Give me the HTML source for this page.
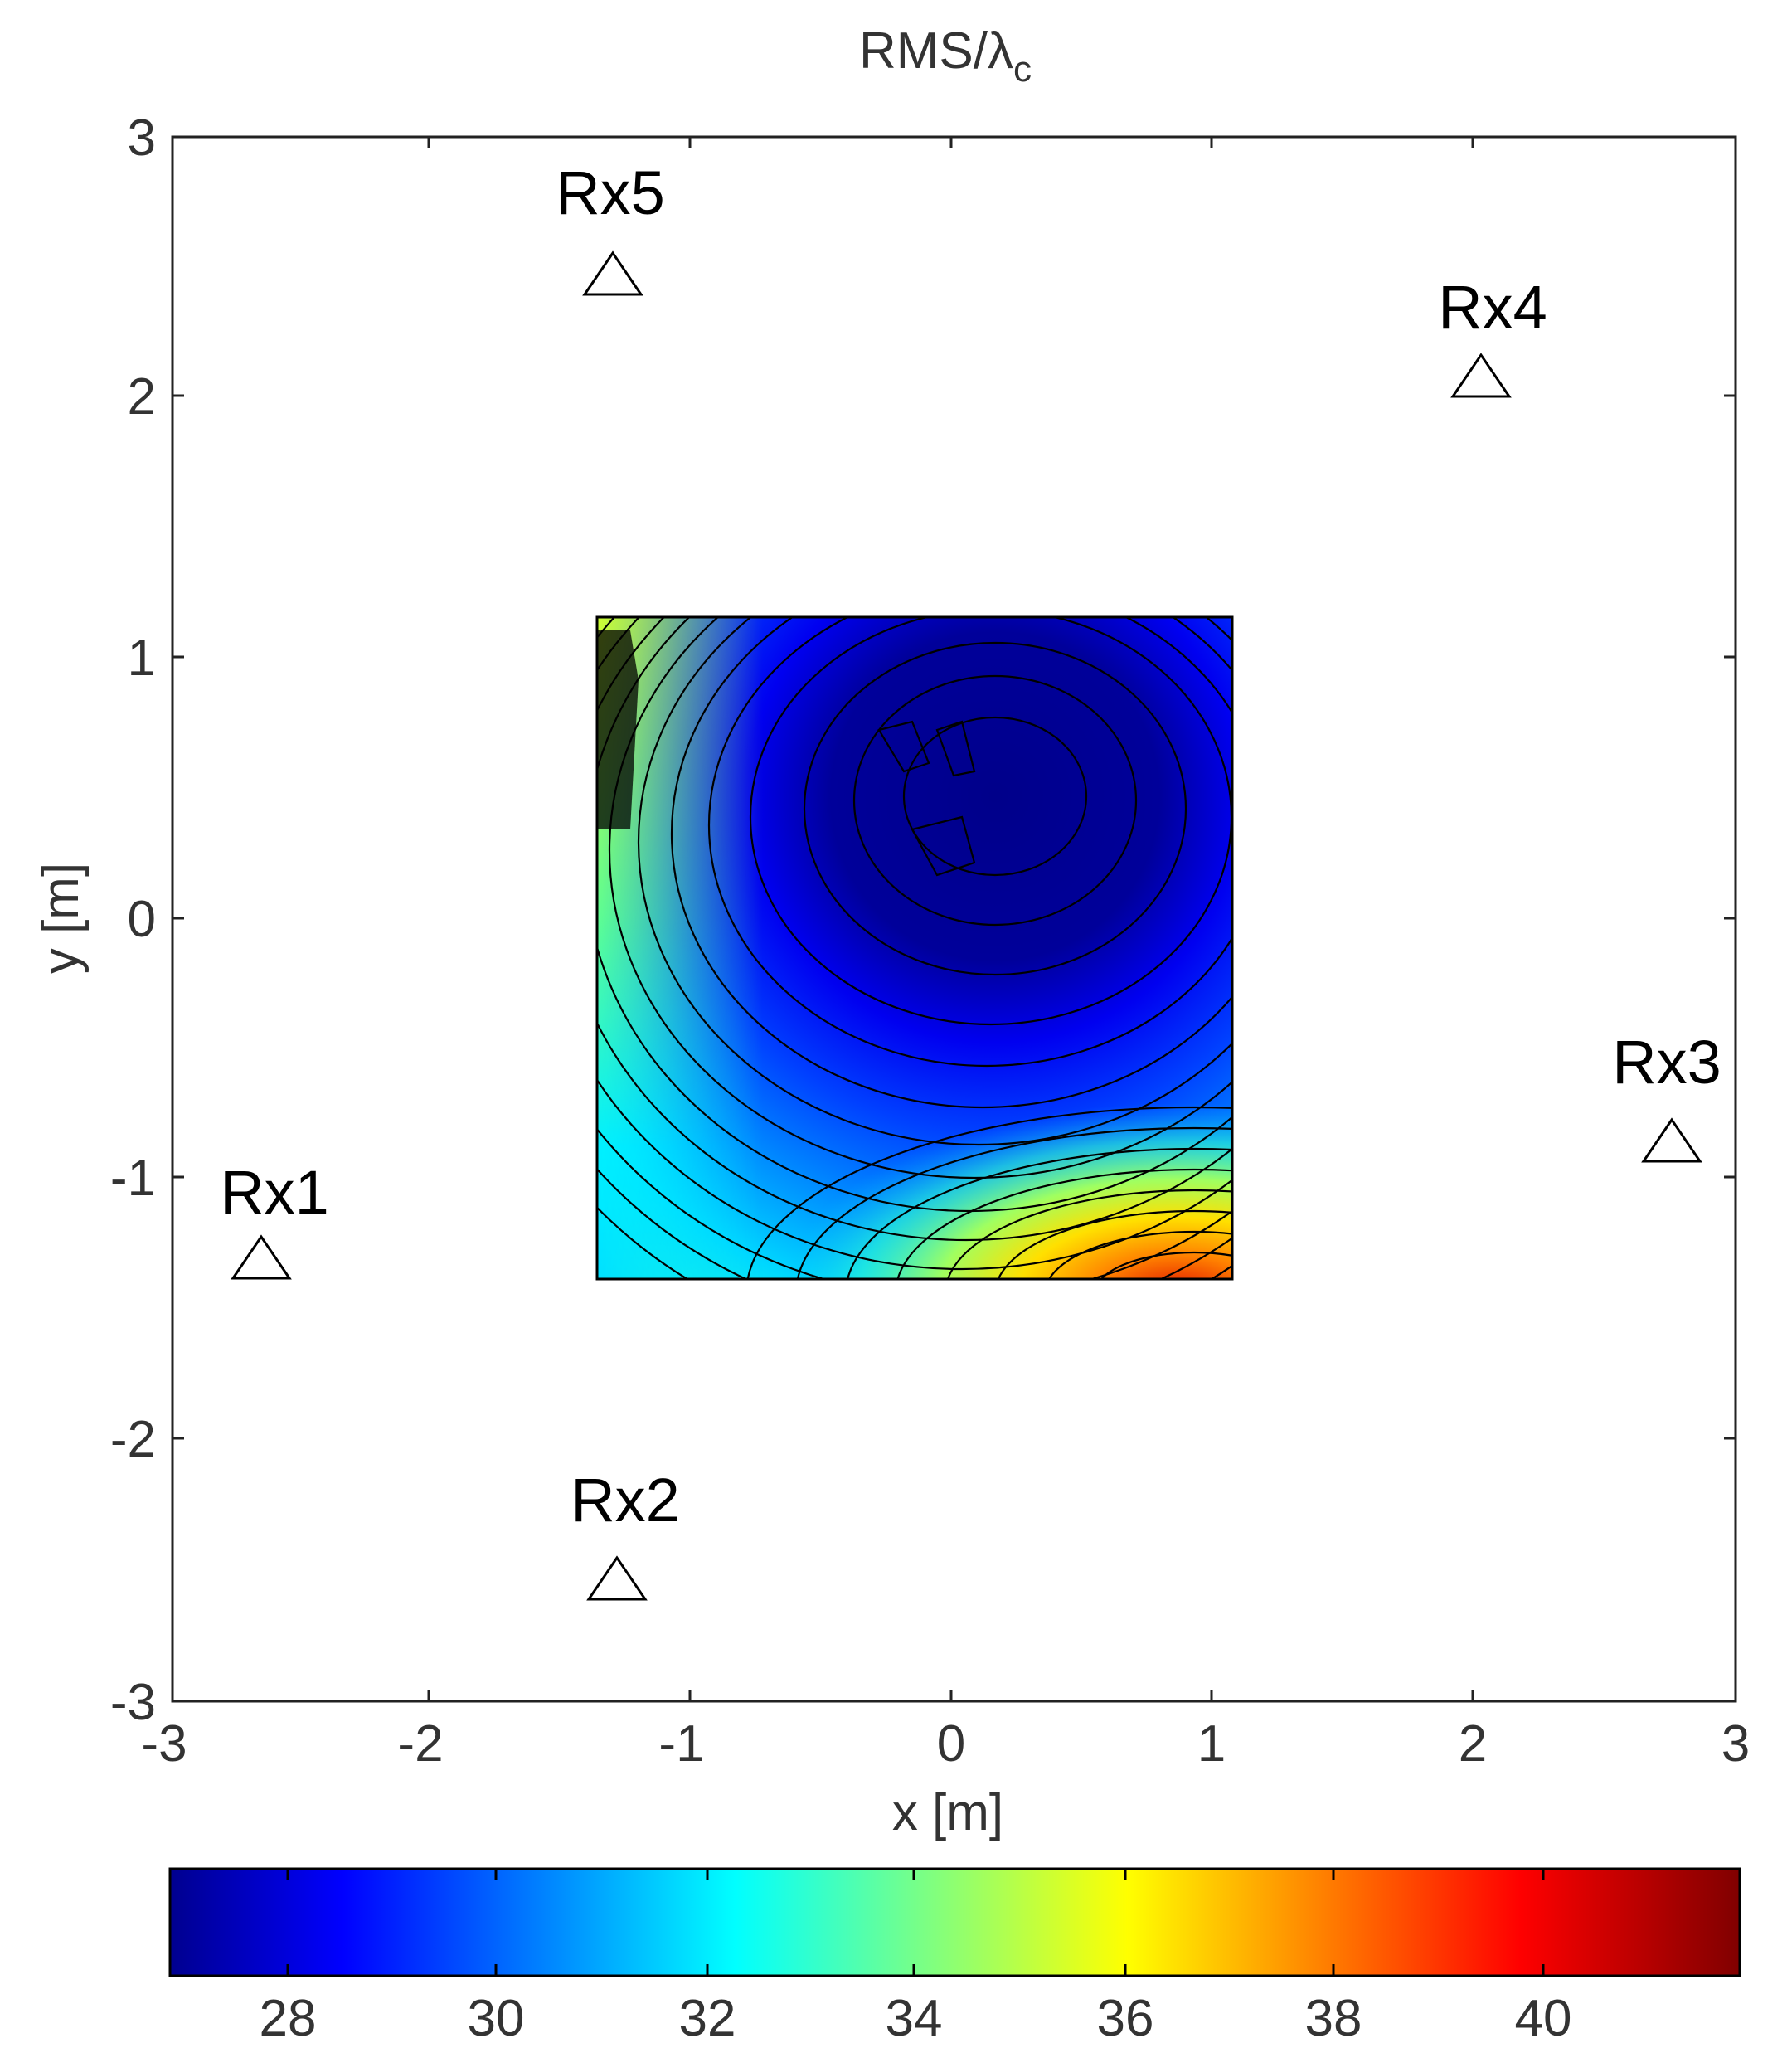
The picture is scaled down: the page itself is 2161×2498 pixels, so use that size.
<!DOCTYPE html>
<html><head><meta charset="utf-8"><style>html,body{margin:0;padding:0;background:#fff}</style></head>
<body>
<svg width="2161" height="2493" viewBox="0 0 2161 2493" xmlns="http://www.w3.org/2000/svg" font-family="Liberation Sans, sans-serif">
<defs>
<linearGradient id="jet" x1="0" x2="1" y1="0" y2="0">
<stop offset="0" stop-color="#00008f"/><stop offset="0.11" stop-color="#0000ff"/><stop offset="0.36" stop-color="#00ffff"/><stop offset="0.61" stop-color="#ffff00"/><stop offset="0.86" stop-color="#ff0000"/><stop offset="1" stop-color="#800000"/>
</linearGradient>
<radialGradient id="core" cx="1200" cy="960" r="900" gradientUnits="userSpaceOnUse">
<stop offset="0" stop-color="#00008a"/><stop offset="0.22" stop-color="#00009a"/><stop offset="0.33" stop-color="#0000f0"/><stop offset="0.45" stop-color="#0040ff"/><stop offset="0.58" stop-color="#0090ff"/><stop offset="0.7" stop-color="#00d8ff"/><stop offset="0.82" stop-color="#20ffe0"/><stop offset="1" stop-color="#80ff80"/>
</radialGradient>
<radialGradient id="br">
<stop offset="0" stop-color="#e01000"/><stop offset="0.2" stop-color="#ff8000"/><stop offset="0.4" stop-color="#ffe000"/><stop offset="0.6" stop-color="#a0ff60"/><stop offset="0.8" stop-color="#30ffd0" stop-opacity="0.6"/><stop offset="1" stop-color="#00c0ff" stop-opacity="0"/>
</radialGradient>
<linearGradient id="le" x1="0" x2="0" y1="0" y2="1">
<stop offset="0" stop-color="#d0ff30"/><stop offset="0.45" stop-color="#60ff90"/><stop offset="0.8" stop-color="#00f0ff"/><stop offset="1" stop-color="#00e0ff"/>
</linearGradient>
<linearGradient id="lefade" x1="0" x2="1" y1="0" y2="0">
<stop offset="0" stop-color="#fff"/><stop offset="1" stop-color="#000"/>
</linearGradient>
<mask id="lm"><rect x="720" y="744" width="200" height="798" fill="url(#lefade)"/></mask>
<clipPath id="hc"><rect x="720" y="744" width="766" height="798"/></clipPath>
</defs>
<text x="1140" y="82" font-size="62" text-anchor="middle" fill="#333">RMS/λ<tspan font-size="44" dy="16">c</tspan></text>
<g clip-path="url(#hc)">
<rect x="720" y="744" width="766" height="798" fill="url(#core)"/>
<rect x="720" y="744" width="200" height="798" fill="url(#le)" mask="url(#lm)"/>
<ellipse cx="1420" cy="1560" rx="480" ry="230" fill="url(#br)"/>
<g fill="none" stroke="#000" stroke-width="2.2">
<ellipse cx="1200" cy="960" rx="110" ry="95"/>
<ellipse cx="1200" cy="965" rx="170" ry="150"/>
<ellipse cx="1200" cy="975" rx="230" ry="200"/>
<ellipse cx="1195" cy="985" rx="290" ry="250"/>
<ellipse cx="1190" cy="995" rx="335" ry="290"/>
<ellipse cx="1185" cy="1005" rx="375" ry="330"/>
<ellipse cx="1180" cy="1015" rx="410" ry="365"/>
<ellipse cx="1175" cy="1025" rx="440" ry="395"/>
<ellipse cx="1170" cy="1035" rx="465" ry="425"/>
<ellipse cx="1165" cy="1045" rx="490" ry="450"/>
<ellipse cx="1160" cy="1055" rx="515" ry="475"/>
<ellipse cx="1155" cy="1065" rx="540" ry="500"/>
<ellipse cx="1150" cy="1075" rx="560" ry="522"/>
<ellipse cx="1145" cy="1085" rx="580" ry="545"/>
<ellipse cx="1440" cy="1560" rx="120" ry="50"/>
<ellipse cx="1440" cy="1560" rx="180" ry="75"/>
<ellipse cx="1440" cy="1560" rx="240" ry="100"/>
<ellipse cx="1440" cy="1560" rx="300" ry="125"/>
<ellipse cx="1440" cy="1560" rx="360" ry="150"/>
<ellipse cx="1440" cy="1560" rx="420" ry="175"/>
<ellipse cx="1440" cy="1560" rx="480" ry="200"/>
<ellipse cx="1440" cy="1560" rx="540" ry="225"/>
<polygon points="1060,880 1100,870 1120,920 1090,930"/>
<polygon points="1130,880 1160,870 1175,930 1150,935"/>
<polygon points="1100,1000 1160,985 1175,1040 1130,1055"/>
</g>
<path d="M720 760 L760 760 L770 820 L760 1000 L720 1000 Z" fill="#000" opacity="0.75"/>
</g>
<rect x="720" y="744" width="766" height="798" fill="none" stroke="#000" stroke-width="3"/>
<rect x="208" y="165" width="1885" height="1886" fill="none" stroke="#222" stroke-width="3"/>
<g stroke="#222" stroke-width="3">
<path d="M517 165v14M832 165v14M1147 165v14M1461 165v14M1776 165v14M517 2051v-14M832 2051v-14M1147 2051v-14M1461 2051v-14M1776 2051v-14"/>
<path d="M208 477h14M208 792h14M208 1107h14M208 1419h14M208 1734h14M2093 477h-14M2093 792h-14M2093 1107h-14M2093 1419h-14M2093 1734h-14"/>
</g>
<g font-size="62" fill="#333" text-anchor="end">
<text x="188" y="187">3</text><text x="188" y="499">2</text><text x="188" y="814">1</text><text x="188" y="1129">0</text><text x="188" y="1441">-1</text><text x="188" y="1756">-2</text><text x="188" y="2073">-3</text>
</g>
<g font-size="62" fill="#333" text-anchor="middle">
<text x="198" y="2123">-3</text><text x="507" y="2123">-2</text><text x="822" y="2123">-1</text><text x="1147" y="2123">0</text><text x="1461" y="2123">1</text><text x="1776" y="2123">2</text><text x="2093" y="2123">3</text>
<text x="1143" y="2206">x [m]</text>
<text transform="translate(94,1107) rotate(-90)">y [m]</text>
</g>
<g font-size="74" fill="#000" text-anchor="middle">
<text x="736" y="258">Rx5</text><text x="1800" y="396">Rx4</text><text x="2010" y="1306">Rx3</text><text x="331" y="1463">Rx1</text><text x="754" y="1834">Rx2</text>
</g>
<g fill="none" stroke="#000" stroke-width="3">
<polygon points="739,305 705,355 773,355"/>
<polygon points="1786,428 1752,478 1820,478"/>
<polygon points="2016,1350 1982,1400 2050,1400"/>
<polygon points="315,1491 281,1541 349,1541"/>
<polygon points="744,1878 710,1928 778,1928"/>
</g>
<rect x="205" y="2253" width="1893" height="129" fill="url(#jet)" stroke="#000" stroke-width="3"/>
<g stroke="#000" stroke-width="3">
<path d="M347 2253v14M598 2253v14M853 2253v14M1102 2253v14M1357 2253v14M1608 2253v14M1861 2253v14M347 2382v-14M598 2382v-14M853 2382v-14M1102 2382v-14M1357 2382v-14M1608 2382v-14M1861 2382v-14"/>
</g>
<g font-size="62" fill="#333" text-anchor="middle">
<text x="347" y="2454">28</text><text x="598" y="2454">30</text><text x="853" y="2454">32</text><text x="1102" y="2454">34</text><text x="1357" y="2454">36</text><text x="1608" y="2454">38</text><text x="1861" y="2454">40</text>
</g>
</svg>
</body></html>
